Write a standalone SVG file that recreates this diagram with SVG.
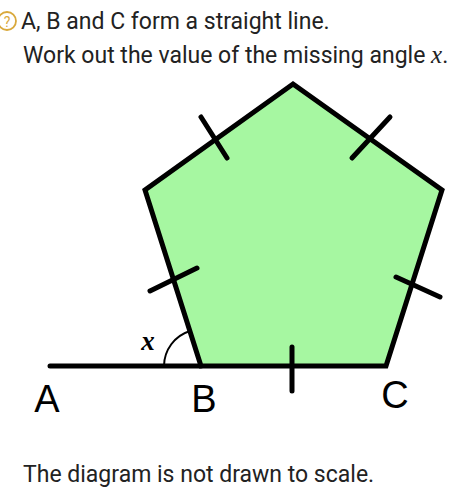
<svg xmlns="http://www.w3.org/2000/svg" width="474" height="501" viewBox="0 0 474 501">
<style>
.t{font-family:Roboto,"Liberation Sans",sans-serif;fill:#222;font-size:23px}
.lbl{font-family:"Liberation Sans",Arial,sans-serif;fill:#000;font-size:38px;text-anchor:middle}
.edge{stroke:#000;stroke-width:5;stroke-linecap:round;stroke-linejoin:miter}
.tick{stroke:#000;stroke-width:5;stroke-linecap:round}
</style>
<rect width="474" height="501" fill="#fff"/>
<g id="header">
<circle cx="7" cy="21" r="9" fill="none" stroke="#d9a93c" stroke-width="1.8"/>
<text x="7" y="26.5" font-family="Roboto,sans-serif" font-size="14" fill="#d9a93c" text-anchor="middle">?</text>
<text class="t" x="21" y="29">A, B and C form a straight line.</text>
<text class="t" x="23" y="63">Work out the value of the missing angle <tspan font-family="'Liberation Serif',serif" font-style="italic" font-size="25">x</tspan>.</text>
</g>
<g id="pentagon">
<polygon points="293,84 442,190 386,366 201,366 145,190" class="edge" style="fill:#a6f7a1"/>
</g>
<g id="connectors">
<line class="edge" x1="50" y1="366" x2="201" y2="366"/>
<path d="M164,366 A37,37 0 0 1 190,331" fill="none" stroke="#000" stroke-width="2"/>
<line class="tick" x1="201" y1="117" x2="227" y2="158"/>
<line class="tick" x1="390" y1="117" x2="352" y2="158"/>
<line class="tick" x1="396" y1="277" x2="440" y2="297"/>
<line class="tick" x1="292" y1="347" x2="292" y2="391"/>
<line class="tick" x1="150" y1="291" x2="197" y2="268"/>
</g>
<g id="labels">
<text x="148" y="350" font-family="'Liberation Serif',serif" font-style="italic" font-weight="bold" font-size="27" text-anchor="middle">x</text>
<text class="lbl" x="47" y="412">A</text>
<text class="lbl" x="204" y="412">B</text>
<text class="lbl" x="395" y="408">C</text>
</g>
<text class="t" x="23" y="482">The diagram is not drawn to scale.</text>
</svg>
